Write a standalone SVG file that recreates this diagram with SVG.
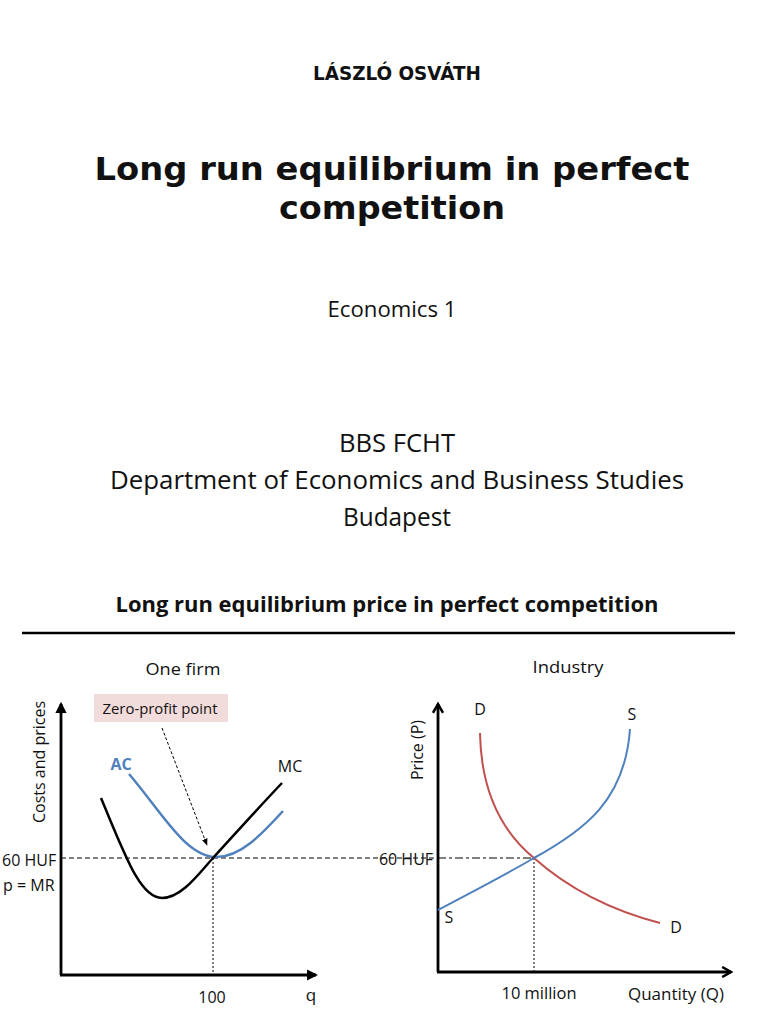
<svg xmlns="http://www.w3.org/2000/svg" width="768" height="1024" viewBox="0 0 768 1024">
<style>
text{font-family:"Open Sans","Noto Sans",sans-serif;fill:#111}
.t{text-anchor:middle}
.axis{stroke:#000;stroke-width:2.8;fill:none}
.dash{stroke:#000;stroke-width:1;stroke-dasharray:5,3;fill:none}
.dot{stroke:#000;stroke-width:1;stroke-dasharray:2,2;fill:none}
.blue{stroke:#4f81bd;stroke-width:2.5;fill:none}
.red{stroke:#c0504d;stroke-width:2;fill:none}
.blk{stroke:#000;stroke-width:2.5;fill:none}
</style>
<defs>
<marker id="ah" viewBox="0 0 10 10" refX="8" refY="5" markerWidth="4" markerHeight="4" orient="auto" markerUnits="strokeWidth">
<path d="M0,0 L10,5 L0,10 z" fill="#000"/>
</marker>
<marker id="ch" viewBox="0 0 10 10" refX="8" refY="5" markerWidth="4.5" markerHeight="4.5" orient="auto" markerUnits="strokeWidth">
<path d="M1,1 L8,5 L1,9" fill="none" stroke="#000" stroke-width="2"/>
</marker>
<marker id="sa" viewBox="0 0 10 10" refX="9" refY="5" markerWidth="7" markerHeight="7" orient="auto" markerUnits="strokeWidth">
<path d="M0,1 L10,5 L0,9 z" fill="#000"/>
</marker>
</defs>

<g id="header">
<text x="397" y="80" class="t" style="font-family:'DejaVu Sans',sans-serif;font-weight:bold;font-size:20px" textLength="168" lengthAdjust="spacingAndGlyphs">LÁSZLÓ OSVÁTH</text>
<text x="392" y="180" class="t" style="font-family:'DejaVu Sans',sans-serif;font-weight:bold;font-size:32px" textLength="595" lengthAdjust="spacingAndGlyphs">Long run equilibrium in perfect</text>
<text x="392" y="219" class="t" style="font-family:'DejaVu Sans',sans-serif;font-weight:bold;font-size:32px" textLength="226" lengthAdjust="spacingAndGlyphs">competition</text>
<text x="392" y="317" class="t" style="font-size:21px" textLength="129" lengthAdjust="spacingAndGlyphs">Economics 1</text>
<text x="397" y="452" class="t" style="font-size:26px" textLength="116" lengthAdjust="spacingAndGlyphs">BBS FCHT</text>
<text x="397" y="489" class="t" style="font-size:26px" textLength="574" lengthAdjust="spacingAndGlyphs">Department of Economics and Business Studies</text>
<text x="397" y="526" class="t" style="font-size:26px" textLength="108" lengthAdjust="spacingAndGlyphs">Budapest</text>
<text x="387" y="612" class="t" style="font-size:22px;font-weight:bold" textLength="543" lengthAdjust="spacingAndGlyphs">Long run equilibrium price in perfect competition</text>
<line x1="22" y1="633" x2="735" y2="633" stroke="#000" stroke-width="2.5"/>
</g>

<g id="connectors">
<line x1="61" y1="858" x2="437" y2="858" class="dash"/>
<line x1="438" y1="858" x2="534" y2="858" class="dash" style="stroke-dasharray:8,3,3,3"/>
<line x1="213" y1="858" x2="213" y2="975" class="dot"/>
<line x1="534" y1="858" x2="534" y2="972" class="dot"/>
<line x1="162" y1="728" x2="207" y2="845" class="dash" style="stroke-dasharray:3,2" marker-end="url(#sa)"/>
</g>

<g id="firm-axes">
<line x1="61" y1="975" x2="61" y2="704" class="axis" marker-end="url(#ah)"/>
<line x1="60" y1="975" x2="316" y2="975" class="axis" marker-end="url(#ah)"/>
<text x="183" y="675" class="t" style="font-size:17px" textLength="75" lengthAdjust="spacingAndGlyphs">One firm</text>
<text transform="translate(45,762) rotate(-90)" class="t" style="font-size:16px">Costs and prices</text>
<text x="2" y="866" style="font-size:16px">60 HUF</text>
<text x="3" y="891" style="font-size:16px">p = MR</text>
<text x="212" y="1003" class="t" style="font-size:16px">100</text>
<text x="311" y="1001" class="t" style="font-size:17px">q</text>
</g>

<g id="zero-profit">
<rect x="94" y="694" width="134" height="28" fill="#f2dcdb"/>
<text x="160" y="714" class="t" style="font-size:14px" textLength="115" lengthAdjust="spacingAndGlyphs">Zero-profit point</text>
</g>

<g id="AC">
<path class="blue" d="M129,774 C160,810 185,856 215,857 C240,858 262,834 283,811"/>
<text x="121" y="770" class="t" style="font-size:16px;font-weight:bold;fill:#4f81bd">AC</text>
</g>

<g id="MC">
<path class="blk" d="M101,798 C125,855 140,898 162,898 C182,898 200,872 213,858 C235,834 260,806 282,783"/>
<text x="290" y="772" class="t" style="font-size:16px">MC</text>
</g>

<g id="industry-axes">
<line x1="438" y1="972" x2="438" y2="704" class="axis" marker-end="url(#ch)"/>
<line x1="437" y1="972" x2="731" y2="972" class="axis" marker-end="url(#ch)"/>
<text x="568" y="673" class="t" style="font-size:17px" textLength="71" lengthAdjust="spacingAndGlyphs">Industry</text>
<text transform="translate(423,750) rotate(-90)" class="t" style="font-size:16px">Price (P)</text>
<text x="406" y="865" class="t" style="font-size:16px">60 HUF</text>
<text x="539" y="999" class="t" style="font-size:16px" textLength="75" lengthAdjust="spacingAndGlyphs">10 million</text>
<text x="676" y="1000" class="t" style="font-size:16px" textLength="96" lengthAdjust="spacingAndGlyphs">Quantity (Q)</text>
</g>

<g id="demand">
<path class="red" d="M480,733 C481,790 500,830 534,858 C570,890 610,910 660,923"/>
<text x="480" y="715" class="t" style="font-size:16px">D</text>
<text x="676" y="933" class="t" style="font-size:16px">D</text>
</g>

<g id="supply">
<path class="blue" style="stroke-width:2" d="M438,910 C470,893 505,875 534,858 C585,830 625,800 630,729"/>
<text x="632" y="720" class="t" style="font-size:16px">S</text>
<text x="449" y="923" class="t" style="font-size:16px">S</text>
</g>
</svg>
